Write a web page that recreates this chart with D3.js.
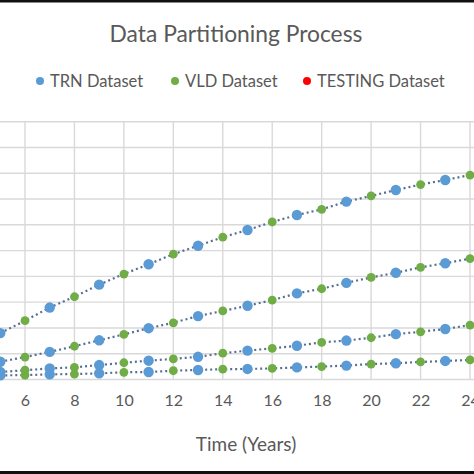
<!DOCTYPE html>
<html>
<head>
<meta charset="utf-8">
<script src="https://cdn.jsdelivr.net/npm/d3@7"></script>
<style>
  html, body { margin: 0; padding: 0; background: #fff; }
  svg { display: block; overflow: hidden; }
  text { font-family: Lato, "Open Sans", sans-serif; fill: #595959; }
</style>
</head>
<body>
<svg id="chart" width="474" height="474"></svg>
<script>
// x values (years) shared by every curve; odd years are TRN points, even years VLD
const years = [5, 6, 7, 8, 9, 10, 11, 12, 13, 14, 15, 16, 17, 18, 19, 20, 21, 22, 23, 24];
const curve1 = [18.0, 22.8, 27.9, 32.1, 36.8, 40.9, 44.7, 48.6, 51.9, 55.2, 58.0, 61.1, 63.8, 66.0, 69.0, 71.2, 73.5, 75.6, 77.4, 79.3];
const curve2 = [6.9, 8.7, 10.7, 12.9, 15.2, 17.5, 19.9, 22.0, 24.6, 26.6, 28.6, 30.8, 33.4, 35.2, 37.5, 39.6, 41.4, 43.5, 45.1, 46.9];
const curve3 = [2.9, 3.6, 4.3, 4.7, 5.6, 6.5, 7.3, 8.0, 8.8, 10.2, 11.2, 12.1, 13.1, 14.4, 15.1, 16.2, 17.6, 18.5, 19.6, 21.1];
const curve4 = [1.6, 1.7, 2.0, 2.1, 2.4, 2.8, 2.9, 3.4, 3.7, 4.0, 4.1, 4.3, 4.7, 5.0, 5.4, 6.0, 6.3, 6.8, 7.2, 7.6];
const curves = [curve1, curve2, curve3, curve4];

const seriesNames = ["TRN Dataset", "VLD Dataset", "TESTING Dataset"];
const seriesColors = ["#5b9bd5", "#70ad47", "#ff0000"];
const xTicks = d3.range(0, 28, 2);
const xLabels = [6, 8, 10, 12, 14, 16, 18, 20, 22, 24];
const yTicks = d3.range(0, 110, 10);

const svg = d3.select("#chart");

// plot area runs off the left edge, like the cropped original
const x = d3.scaleLinear().domain([6, 24]).range([25, 470]);
const y = d3.scaleLinear().domain([0, 100]).range([379.5, 121.7]);

// frame bands
svg.append("rect").attr("x", 0).attr("y", 0).attr("width", 474).attr("height", 2.5).attr("fill", "#111");
svg.append("rect").attr("x", 0).attr("y", 471).attr("width", 474).attr("height", 3).attr("fill", "#111");

// gridlines
const grid = svg.append("g");
grid.selectAll("line.h")
  .data(yTicks)
  .enter()
  .append("line")
  .attr("x1", x(0) - 60).attr("x2", x(26))
  .attr("y1", d => y(d)).attr("y2", d => y(d))
  .attr("stroke", "#d9d9d9")
  .attr("stroke-width", 1.4);
grid.selectAll("line.v")
  .data(xTicks)
  .enter()
  .append("line")
  .attr("x1", d => x(d)).attr("x2", d => x(d))
  .attr("y1", y(100)).attr("y2", y(0))
  .attr("stroke", "#d9d9d9")
  .attr("stroke-width", 1.4);

// x axis labels
svg.append("g")
  .attr("transform", "translate(0," + y(0) + ")")
  .call(d3.axisBottom(x).tickValues(xLabels).tickSize(0).tickPadding(15))
  .call(g => g.select(".domain").remove())
  .call(g => g.selectAll("text")
    .style("font-family", "Lato, 'Open Sans', sans-serif")
    .style("font-size", "16px")
    .attr("fill", "#595959"));

// dotted connecting lines
const line = d3.line()
  .x((d, i) => x(years[i]))
  .y(d => y(d));
svg.append("g")
  .selectAll("path")
  .data(curves)
  .enter()
  .append("path")
  .attr("d", line)
  .attr("fill", "none")
  .attr("stroke", "#566f95")
  .attr("stroke-width", 2.2)
  .attr("stroke-dasharray", "2,3");

// markers
const pts = [];
curves.forEach(c => c.forEach((v, i) => pts.push({ year: years[i], v: v, s: years[i] % 2 === 1 ? 0 : 1 })));
svg.append("g")
  .selectAll("circle")
  .data(pts)
  .enter()
  .append("circle")
  .attr("cx", d => x(d.year))
  .attr("cy", d => y(d.v))
  .attr("r", d => d.s === 0 ? 5.2 : 4.4)
  .attr("fill", d => seriesColors[d.s]);

// title
svg.append("text")
  .attr("x", 236)
  .attr("y", 42)
  .attr("text-anchor", "middle")
  .style("font-size", "22.8px")
  .text("Data Partitioning Process");

// legend
const legendX = [40, 175, 307];
const legend = svg.append("g");
legend.selectAll("circle")
  .data(seriesNames)
  .enter()
  .append("circle")
  .attr("cx", (d, i) => legendX[i])
  .attr("cy", 81)
  .attr("r", 4)
  .attr("fill", (d, i) => seriesColors[i]);
legend.selectAll("text")
  .data(seriesNames)
  .enter()
  .append("text")
  .attr("x", (d, i) => legendX[i] + 10)
  .attr("y", 87)
  .style("font-size", "16.5px")
  .text(d => d);

// axis title
svg.append("text")
  .attr("x", 246)
  .attr("y", 451)
  .attr("text-anchor", "middle")
  .style("font-size", "19px")
  .text("Time (Years)");
</script>
</body>
</html>
